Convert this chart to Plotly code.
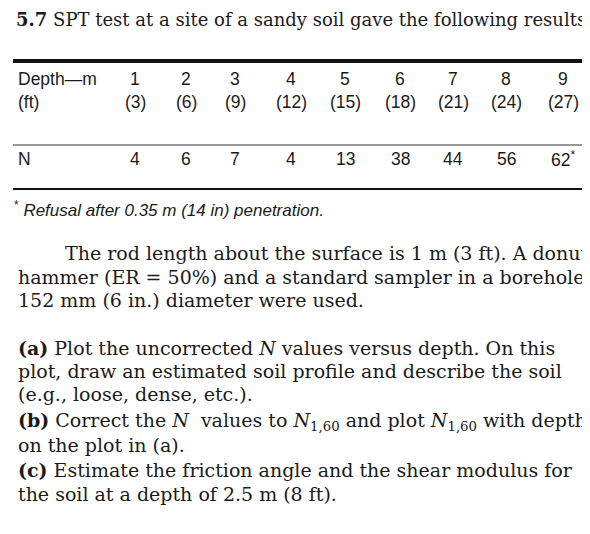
import plotly.graph_objects as go

depth_m = ["1", "2", "3", "4", "5", "6", "7", "8", "9"]
depth_ft = ["(3)", "(6)", "(9)", "(12)", "(15)", "(18)", "(21)", "(24)", "(27)"]
n_values = ["4", "6", "7", "4", "13", "38", "44", "56", "62<sup>*</sup>"]
col_x = [127, 178, 227, 283, 337, 392, 445, 498, 555]

title_html = "<b>5.7</b> SPT test at a site of a sandy soil gave the following results."
footnote = "<sup>*</sup> <i>Refusal after 0.35 m (14 in) penetration.</i>"
paragraph = [
    (55, 252, "The rod length about the surface is 1 m (3 ft). A donut"),
    (8, 276, "hammer (ER = 50%) and a standard sampler in a borehole"),
    (8, 299, "152 mm (6 in.) diameter were used."),
    (8, 347, "<b>(a)</b> Plot the uncorrected <i>N</i> values versus depth. On this"),
    (8, 370, "plot, draw an estimated soil profile and describe the soil"),
    (8, 393, "(e.g., loose, dense, etc.)."),
    (8, 420, "<b>(b)</b> Correct the <i>N</i>  values to <i>N</i><sub>1,60</sub> and plot <i>N</i><sub>1,60</sub> with depth"),
    (8, 444, "on the plot in (a)."),
    (8, 469, "<b>(c)</b> Estimate the friction angle and the shear modulus for"),
    (8, 493, "the soil at a depth of 2.5 m (8 ft)."),
]
DY = -7

serif = dict(family="DejaVu Serif", size=19, color="#1a1a1a")
sans = dict(family="Liberation Sans", size=17.5, color="#1a1a1a")

fig = go.Figure()
ann = []
ann.append(dict(x=6, y=18, text=title_html, font=dict(family="DejaVu Serif", size=18, color="#1a1a1a")))
ann.append(dict(x=8, y=78, text="Depth—m", font=sans))
ann.append(dict(x=8, y=101, text="(ft)", font=sans))
ann.append(dict(x=8, y=158, text="N", font=sans))
for i, cx in enumerate(col_x):
    ann.append(dict(x=cx, y=78, text=depth_m[i], font=sans, xanchor="center"))
    ann.append(dict(x=cx, y=101, text=depth_ft[i], font=sans, xanchor="center"))
    ann.append(dict(x=cx, y=158, text=n_values[i], font=sans, xanchor="center"))
ann.append(dict(x=4, y=208, text=footnote, font=dict(family="Liberation Sans", size=17, color="#1a1a1a")))
for x, y, t in paragraph:
    ann.append(dict(x=x, y=y, text=t, font=serif))
for a in ann:
    a.setdefault("xanchor", "left")
    a["y"] = a["y"] + DY
    a.update(yanchor="middle", showarrow=False, xref="x", yref="y")

shapes = [
    dict(type="line", x0=5, x1=582, y0=53, y1=53, line=dict(color="#111", width=4)),
    dict(type="line", x0=5, x1=582, y0=137, y1=137, line=dict(color="#333", width=1.2)),
    dict(type="line", x0=5, x1=582, y0=181, y1=181, line=dict(color="#111", width=2.2)),
]
for s in shapes:
    s.update(xref="x", yref="y")

fig.update_layout(
    width=590, height=534, margin=dict(l=0, r=0, t=0, b=0),
    paper_bgcolor="white", plot_bgcolor="white",
    xaxis=dict(range=[0, 590], visible=False, fixedrange=True),
    yaxis=dict(range=[534, 0], visible=False, fixedrange=True),
    annotations=ann, shapes=shapes, showlegend=False,
)
fig.write_html("out.html")
